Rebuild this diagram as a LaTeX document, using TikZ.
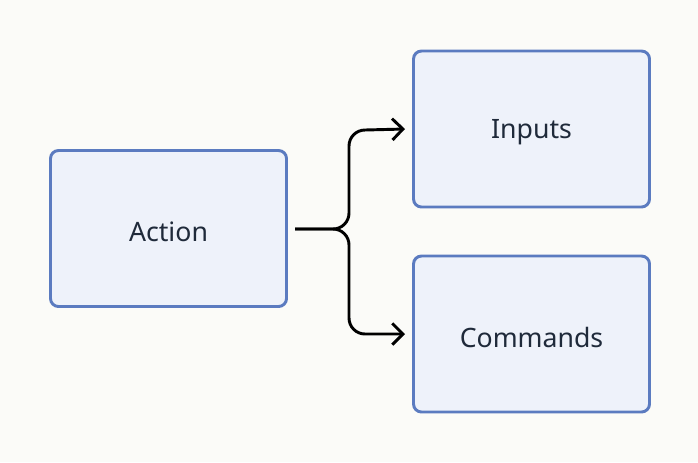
\documentclass[tikz,border=0pt]{standalone}
\usepackage{fontspec}
\setmainfont{Noto Sans}
\usetikzlibrary{arrows.meta}
\definecolor{bg}{HTML}{FBFBF8}
\definecolor{bx}{HTML}{EEF2FA}
\definecolor{bd}{HTML}{5B7BC0}
\definecolor{tx}{HTML}{1F2A3A}
\begin{document}
\begin{tikzpicture}[x=0.75pt,y=-0.75pt,
  box/.style={draw=bd,fill=bx,line width=2.2pt,rounded corners=6pt,minimum width=177pt,minimum height=117pt,inner sep=0pt,text=tx,font=\fontsize{20}{24}\selectfont},
  con/.style={line width=2.2pt,-{Straight Barb[length=8pt,width=16pt]}}]
\fill[bg] (0,0) rectangle (698,462);
\useasboundingbox (0,0) rectangle (698,462);
\node[box] (a) at (168.5,228.5) {};
\node[box] (i) at (531.5,129) {};
\node[box] (c) at (531.5,334) {};
\node[text=tx,font=\fontsize{20}{24}\selectfont] (at) at (168.5,232) {Action};
\node[text=tx,font=\fontsize{20}{24}\selectfont] (it) at (531.5,132) {Inputs};
\node[text=tx,font=\fontsize{20}{24}\selectfont] (ct) at (531.5,337) {Commands};
\coordinate (s) at (295,229);
\draw[con] (s) -- (333,229) to[out=0,in=-90] (349,213) -- (349,146) to[out=90,in=180] (365,130) -- (i.west -| 405,130);
\draw[con] (s) -- (333,229) to[out=0,in=90] (349,245) -- (349,318) to[out=-90,in=180] (365,334) -- (c.west -| 405,334);
\end{tikzpicture}
\end{document}
